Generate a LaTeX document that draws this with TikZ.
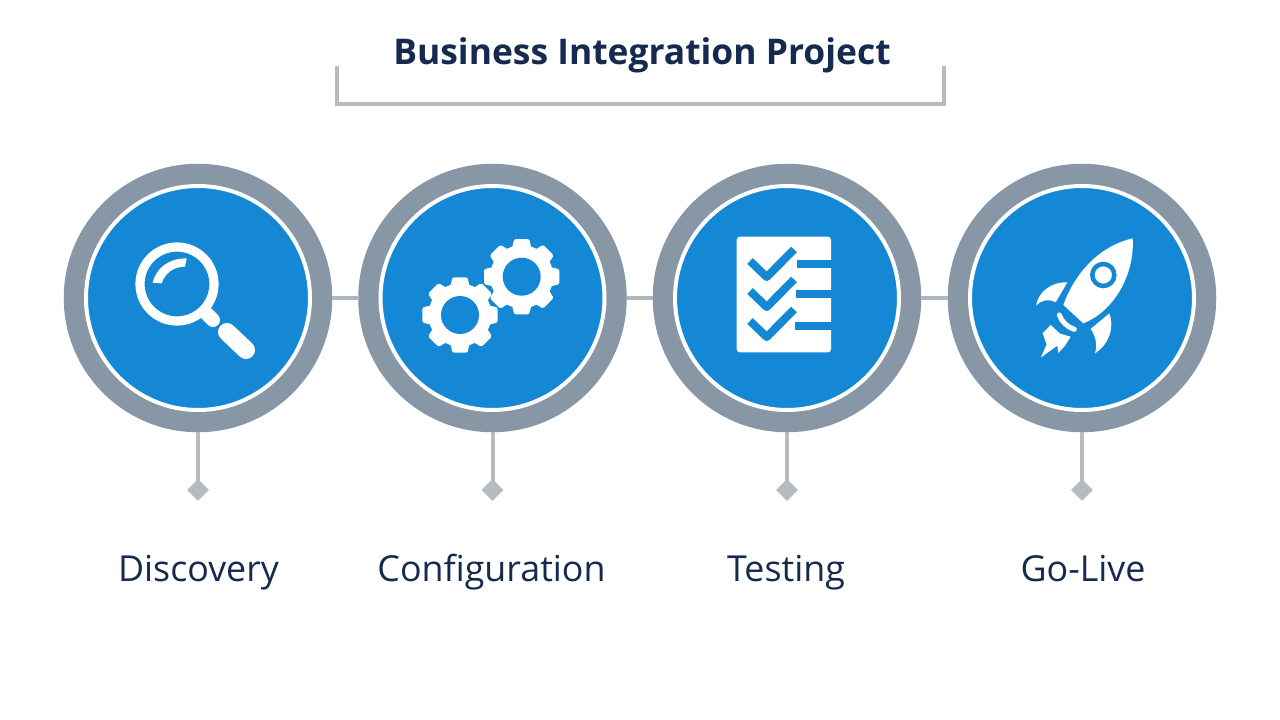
\documentclass[tikz,border=0pt]{standalone}
\usepackage{fontspec}
\setmainfont{Open Sans}
\usetikzlibrary{shapes.geometric}
\definecolor{ringgray}{HTML}{8797A6}
\definecolor{iconblue}{HTML}{1488D5}
\definecolor{linegray}{HTML}{B5BBBF}
\definecolor{inkblue}{HTML}{16294F}
\tikzset{
  ring/.style={circle,fill=ringgray,minimum size=268.5pt,inner sep=0pt},
  disc/.style={circle,fill=iconblue,draw=white,line width=4pt,minimum size=224pt,inner sep=0pt},
  link/.style={draw=ringgray!70!white,line width=4pt},
  stem/.style={draw=linegray,line width=4pt},
  pin/.style={diamond,fill=linegray,minimum size=22pt,inner sep=0pt},
  steplabel/.style={anchor=base,text=inkblue,font=\fontsize{35.8}{38}\selectfont},
  titlelabel/.style={anchor=base,text=inkblue,font=\fontsize{35.4}{38}\selectfont\bfseries},
  bracket/.style={draw=linegray,line width=3.5pt,line cap=butt,line join=miter}
}
\newcommand{\gearicon}[2]{%
  \begin{scope}[shift={(#1,#2)}]
    \foreach \a in {0,45,...,315}{
      \fill[white,rotate=\a,rounded corners=1.5pt] (-7.5,-37.7) -- (7.5,-37.7) -- (10,-27) -- (-10,-27) -- cycle;
    }
    \fill[white] (0,0) circle (31.5);
    \fill[iconblue] (0,0) circle (19);
  \end{scope}}
\begin{document}
\begin{tikzpicture}[x=1pt,y=-1pt]
\useasboundingbox (0,0) rectangle (1280,720);
\fill[white] (0,0) rectangle (1280,720);
% rings
\foreach \n/\x in {1/198,2/492.5,3/787,4/1082}{
  \node[ring] (r\n) at (\x,298) {};
  \node[disc] (c\n) at (\x,298) {};
  \node[pin] (d\n) at (\x,490) {};
  \draw[stem] (r\n.south) -- (d\n.center);
}
\draw[link] (r1.east) -- (r2.west);
\draw[link] (r2.east) -- (r3.west);
\draw[link] (r3.east) -- (r4.west);
% title and bracket
\node[titlelabel] (title) at (642,64) {Business Integration Project};
\coordinate (bl) at (337,66);
\coordinate (br) at (944,66);
\draw[bracket] (bl) -- (bl |- 0,104) -- (br |- 0,104) -- (br);
% labels
\node[steplabel] (l1) at (198.5,581) {Discovery};
\node[steplabel] (l2) at (491.5,581) {Configuration};
\node[steplabel] (l3) at (786,581) {Testing};
\node[steplabel] (l4) at (1083,581) {Go-Live};
% magnifier
\draw[white,line width=9.2pt] (177,284) circle (37);
\begin{scope}[shift={(60,160)},x=0.3333pt,y=-0.3333pt]
  \fill[white] (278,368) .. controls (290,320) and (330,295) .. (380,295)
     -- (375,320) .. controls (340,320) and (315,340) .. (305,370) -- cycle;
\end{scope}
\draw[white,line width=14pt,line cap=round] (207,314) -- (213,320);
\draw[white,line width=18pt,line cap=round] (227,332) -- (246,350);
% gears
\gearicon{460}{315}
\gearicon{521.7}{276.7}
% checklist
\fill[white,rounded corners=3pt] (736.7,236.7) rectangle (831,352.3);
\fill[iconblue] (796.7,260.3) rectangle (831.5,268.3);
\fill[iconblue] (796,290.3) rectangle (831.5,298.3);
\fill[iconblue] (795,321.7) rectangle (831.5,329.7);
\foreach \y in {0,30,60}{
  \draw[iconblue,line width=8pt,line join=round] (750,261+\y) -- (766.7,277+\y) -- (794,249.5+\y);
}
% rocket
\begin{scope}[shift={(1020,225)},x=0.3333pt,y=-0.3333pt]
  \fill[white] (338,40) .. controls (250,60) and (170,130) .. (130,240)
     -- (190,295) .. controls (280,260) and (345,150) .. cycle;
  \draw[iconblue,line width=4.5pt,fill=white] (250,150) circle (33);
  \draw[white,line width=5pt,line cap=round] (118,270) .. controls (125,290) and (140,305) .. (163,313);
  \fill[white] (142,172) .. controls (95,170) and (55,200) .. (48,242)
     .. controls (65,225) and (85,220) .. (107,232) -- cycle;
  \fill[white] (268,265) .. controls (285,310) and (265,360) .. (225,385)
     .. controls (232,360) and (228,335) .. (212,312) -- cycle;
  \fill[white] (92,300) -- (120,326) -- (152,335) -- (135,362) -- (115,384)
     -- (112,362) -- (63,397) -- (80,358) -- (68,325) -- cycle;
\end{scope}
\end{tikzpicture}
\end{document}
